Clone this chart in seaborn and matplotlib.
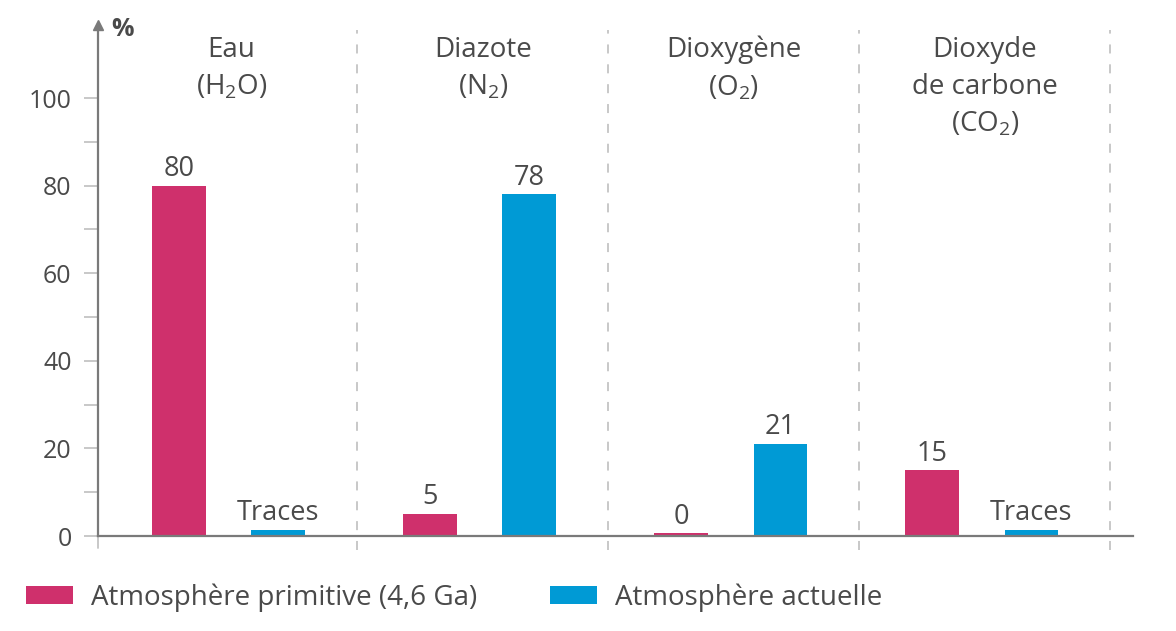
import matplotlib
matplotlib.use("Agg")
import matplotlib.pyplot as plt
import seaborn as sns
import pandas as pd

# ---- data ----
categories = ["Eau", "Diazote", "Dioxygène", "Dioxyde de carbone"]
category_labels = ["Eau\n(H$_\\mathregular{2}$O)",
                   "Diazote\n(N$_\\mathregular{2}$)",
                   "Dioxygène\n(O$_\\mathregular{2}$)",
                   "Dioxyde\nde carbone\n(CO$_\\mathregular{2}$)"]
series_names = ["Atmosphère primitive (4,6 Ga)", "Atmosphère actuelle"]
primitive_values = [80, 5, 0.6, 15]
current_values = [1.4, 78, 21, 1.4]
primitive_labels = ["80", "5", "0", "15"]
current_labels = ["Traces", "78", "21", "Traces"]
y_major_ticks = [0, 20, 40, 60, 80, 100]
y_minor_ticks = [10, 30, 50, 70, 90]

PINK = "#CF306C"
BLUE = "#009AD5"
TEXT = "#4A4A4A"
AXIS = "#7A7A7A"
LIGHT = "#C4C4C4"

sns.set_theme(style="white")
plt.rcParams["font.family"] = ["Open Sans", "DejaVu Sans"]
plt.rcParams["mathtext.fontset"] = "custom"
plt.rcParams["mathtext.rm"] = "Open Sans"
plt.rcParams["text.color"] = TEXT

df = pd.DataFrame({
    "cat": categories * 2,
    "val": primitive_values + current_values,
    "serie": [series_names[0]] * 4 + [series_names[1]] * 4,
})

W, H = 1176, 631
fig = plt.figure(figsize=(W / 100, H / 100), dpi=100)
ax = fig.add_axes([98 / W, (H - 536) / H, (1133 - 98) / W, (536 - 25) / H])

sns.barplot(data=df, x="cat", y="val", hue="serie", order=categories,
            hue_order=series_names, palette=[PINK, BLUE], saturation=1,
            width=0.79, gap=0.46, linewidth=0, edgecolor="none", ax=ax,
            errorbar=None)

SHIFT = 0.012
ax.set_xlim(-0.532 + SHIFT, 3.59 + SHIFT)
ax.set_ylim(0, 116.7)

for cont, labs in zip(ax.containers, [primitive_labels, current_labels]):
    ax.bar_label(cont, labels=labs, padding=2, fontsize=19.5, color=TEXT)

# axes styling
for s in ["top", "right"]:
    ax.spines[s].set_visible(False)
for s in ["left", "bottom"]:
    ax.spines[s].set_color(AXIS)
    ax.spines[s].set_linewidth(1.6)
ax.set_xlabel("")
ax.set_ylabel("")
ax.set_xticks([])
ax.set_yticks(y_major_ticks)
ax.set_yticks(y_minor_ticks, minor=True)
ax.tick_params(axis="y", which="both", direction="out", length=10, width=1.3,
               color=LIGHT, labelsize=18, labelcolor=TEXT, pad=9, left=True)
ax.tick_params(axis="y", which="minor", labelleft=False)

# arrow head on y axis
ax.plot([0], [1], marker="^", ms=7, color=AXIS, transform=ax.transAxes, clip_on=False)
ax.text(24 / (1133 - 98), 0.992, "%", transform=ax.transAxes, fontsize=18,
        fontweight="bold", color=TEXT, va="center", ha="center")
# small extension of y axis below 0
ax.plot([0, 0], [0, -0.024], color=LIGHT, lw=1.3, clip_on=False,
        transform=ax.transAxes)

# dashed separators
for xs in [0.5, 1.5, 2.5, 3.5]:
    ax.plot([xs + SHIFT, xs + SHIFT], [-3.2, 115.5], color=LIGHT, lw=1.3,
            dashes=(5, 6), clip_on=False, zorder=0)

# category headers
for i, lab in enumerate(category_labels):
    ax.text(i + SHIFT, 0.979, lab, transform=ax.get_xaxis_transform(), ha="center",
            va="top", fontsize=20, color=TEXT, linespacing=1.42)

sns.move_legend(ax, "center left", bbox_to_anchor=(1 / W, (H - 598) / H),
                bbox_transform=fig.transFigure, ncol=2, frameon=False, title=None,
                fontsize=20, handlelength=1.7, handleheight=0.62,
                handletextpad=0.65, columnspacing=2.6, labelcolor=TEXT)

fig.savefig("out.png", dpi=100)
